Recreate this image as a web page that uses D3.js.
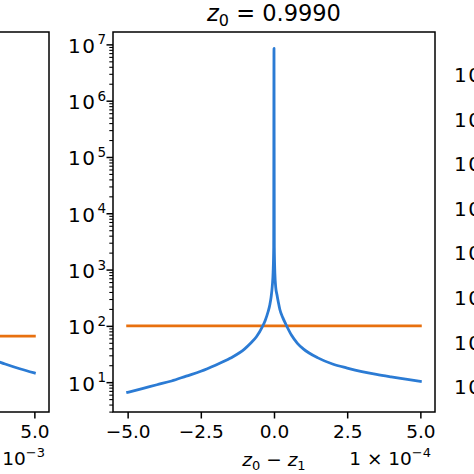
<!DOCTYPE html>
<html>
<head>
<meta charset="utf-8">
<script src="https://cdn.jsdelivr.net/npm/d3@7"></script>
<style>
  html, body { margin: 0; padding: 0; background: #fff; }
  svg { display: block; font-family: "DejaVu Sans", sans-serif; }
</style>
</head>
<body>
<div id="chart"></div>
<script>
// --- data (x in units of the offset factor shown under each panel)
const xTicks = [-5, -2.5, 0, 2.5, 5];
const xTickLabels = ['\u22125.0', '\u22122.5', '0.0', '2.5', '5.0'];

// left panel (only its right end is in the picture), x in 1e-3
const leftX = [3.6, 4.0, 4.5, 5.0];
const leftBlue = [25, 21, 17.3, 14.6];
const leftOrangeX = [-5, 5];
const leftOrange = [66, 66];

// centre panel, x in 1e-4
const centreX = [-5.0, -4.5, -4.0, -3.5, -3.0, -2.5, -2.0, -1.5, -1.0, -0.8, -0.6, -0.4, -0.3, -0.2, -0.14, -0.1, -0.06, -0.03, -0.01,
  0, 0.01, 0.03, 0.06, 0.1, 0.15, 0.2, 0.3, 0.4, 0.6, 0.8, 1.0, 1.5, 2.0, 2.5, 3.0, 3.5, 4.0, 4.5, 5.0];
const centreBlue = [6.6, 7.7, 9.0, 10.5, 12.8, 15.6, 20, 26.5, 39, 49, 64, 96, 125, 180, 240, 320, 500, 900, 2500,
  8.5e6, 2600, 850, 480, 360, 260, 195, 140, 108, 68, 49, 39, 27, 21, 17.8, 15.4, 13.7, 12.4, 11.3, 10.3];
const centreOrangeX = [-5, 5];
const centreOrange = [100, 100];
const centreYExp = [1, 2, 3, 4, 5, 6, 7];

// right panel (only its y tick labels are in the picture)
const rightYExp = [0, 1, 2, 3, 4, 5, 6, 7];

// --- layout
const width = 474;
const height = 474;
const plotTop = 32;
const plotBottom = 412;
const panelW = 322;
const fontSize = 18.5;
const blue = '#2b7bd4';
const orange = '#e8700f';

const svg = d3.select('#chart')
  .append('svg')
  .attr('width', width)
  .attr('height', height);

function drawPanel(p) {
  const x = d3.scaleLinear().domain([-5.5, 5.5]).range([p.left, p.left + panelW]);
  const y = d3.scaleLog().domain(p.yDomain).range([plotBottom, plotTop]);

  const g = svg.append('g');

  g.append('clipPath').attr('id', 'clip-' + p.id)
    .append('rect')
    .attr('x', p.left).attr('y', plotTop)
    .attr('width', panelW).attr('height', plotBottom - plotTop);

  const line = d3.line().x(d => x(d[0])).y(d => y(d[1])).curve(d3.curveMonotoneX);
  const plot = g.append('g').attr('clip-path', `url(#clip-${p.id})`);

  if (p.orange) {
    plot.append('path')
      .attr('d', line(d3.zip(p.orangeX, p.orange)))
      .attr('fill', 'none').attr('stroke', orange)
      .attr('stroke-width', 2.8).attr('stroke-linecap', 'square');
  }
  if (p.blue) {
    plot.append('path')
      .attr('d', line(d3.zip(p.blueX, p.blue)))
      .attr('fill', 'none').attr('stroke', blue)
      .attr('stroke-width', 2.8).attr('stroke-linejoin', 'round').attr('stroke-linecap', 'square');
  }

  // minor y ticks
  const [lo, hi] = p.yDomain;
  const minors = [];
  for (let e = Math.floor(Math.log10(lo)); e <= Math.ceil(Math.log10(hi)); e++) {
    for (let m = 2; m <= 9; m++) {
      const v = m * Math.pow(10, e);
      if (v >= lo && v <= hi) minors.push(v);
    }
  }
  const yMinor = g.append('g').attr('transform', `translate(${p.left},0)`)
    .call(d3.axisLeft(y).tickValues(minors).tickSize(3.7).tickFormat(''));
  yMinor.select('.domain').remove();
  yMinor.selectAll('line').attr('stroke-width', 1.1);

  const majors = p.yExp.map(e => Math.pow(10, e));
  const yMajor = g.append('g').attr('transform', `translate(${p.left},0)`)
    .call(d3.axisLeft(y).tickValues(majors).tickSize(6.5).tickFormat(''));
  yMajor.select('.domain').remove();
  yMajor.selectAll('line').attr('stroke-width', 1.5);

  // y tick labels: 10 with superscript exponent
  const yl = g.append('g')
    .selectAll('text')
    .data(p.yExp)
    .join('text')
      .attr('x', p.left - 7)
      .attr('y', d => y(Math.pow(10, d)) + 8.5)
      .attr('text-anchor', 'end')
      .attr('font-size', fontSize)
      .attr('fill', '#000');
  yl.append('tspan').attr('font-size', 20).attr('letter-spacing', 1.5).text('10');
  yl.append('tspan').attr('dy', -8.5).attr('dx', 1).attr('font-size', 13.5).text(d => d);

  // x axis
  const xa = g.append('g').attr('transform', `translate(0,${plotBottom})`)
    .call(d3.axisBottom(x).tickValues(xTicks).tickSize(6.5).tickPadding(6)
      .tickFormat((d, i) => xTickLabels[i]));
  xa.select('.domain').remove();
  xa.selectAll('line').attr('stroke-width', 1.5);
  xa.selectAll('text').attr('font-size', fontSize).attr('font-family', 'DejaVu Sans').attr('fill', '#000');

  // frame
  g.append('rect')
    .attr('x', p.left).attr('y', plotTop)
    .attr('width', panelW).attr('height', plotBottom - plotTop)
    .attr('fill', 'none').attr('stroke', '#000').attr('stroke-width', 1.5);

  // offset text
  const off = g.append('text')
    .attr('x', p.left + panelW - 4)
    .attr('y', 465)
    .attr('text-anchor', 'end')
    .attr('font-size', fontSize);
  off.append('tspan').text('1 \u00d7 10');
  off.append('tspan').attr('dy', -8).attr('font-size', 13).text('\u2212' + p.offsetExp);

  // x label
  const xl = g.append('text')
    .attr('x', p.left + panelW / 2)
    .attr('y', 466)
    .attr('text-anchor', 'middle')
    .attr('font-size', fontSize);
  xl.append('tspan').attr('font-style', 'italic').text('z');
  xl.append('tspan').attr('dy', 4).attr('font-size', 13).text('0');
  xl.append('tspan').attr('dy', -4).text(' \u2212 ');
  xl.append('tspan').attr('font-style', 'italic').text('z');
  xl.append('tspan').attr('dy', 4).attr('font-size', 13).text('1');

  // title
  if (p.title) {
    const t = g.append('text')
      .attr('x', p.left + panelW / 2)
      .attr('y', 21)
      .attr('text-anchor', 'middle')
      .attr('font-size', 22.5);
    t.append('tspan').attr('font-style', 'italic').text('z');
    t.append('tspan').attr('dy', 5).attr('font-size', 16).text('0');
    t.append('tspan').attr('dy', -5).text(' = ' + p.title);
  }
}

drawPanel({
  id: 'left', left: 49 - panelW, yDomain: [Math.pow(10, 0.47), Math.pow(10, 7.22)], yExp: centreYExp,
  blueX: leftX, blue: leftBlue, orangeX: leftOrangeX, orange: leftOrange, offsetExp: 3
});
drawPanel({
  id: 'centre', left: 113, yDomain: [Math.pow(10, 0.47), Math.pow(10, 7.22)], yExp: centreYExp,
  blueX: centreX, blue: centreBlue, orangeX: centreOrangeX, orange: centreOrange, offsetExp: 4, title: '0.9990'
});
drawPanel({
  id: 'right', left: 499, yDomain: [Math.pow(10, -0.59), Math.pow(10, 7.93)], yExp: rightYExp,
  offsetExp: 5
});
</script>
</body>
</html>
